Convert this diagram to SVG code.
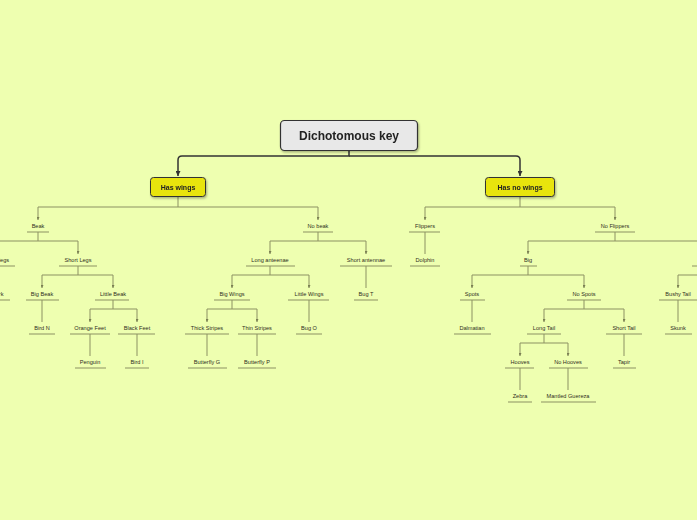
<svg xmlns="http://www.w3.org/2000/svg" width="697" height="520" viewBox="0 0 697 520">
<style>
.t{font-family:"Liberation Sans",Arial,sans-serif;font-size:5.6px;fill:#2e2e22;text-anchor:middle}
.u{stroke:#8c9163;stroke-width:1}
.c{fill:none;stroke:#8c9163;stroke-width:1}
.ca{fill:none;stroke:#8c9163;stroke-width:1;marker-end:url(#a)}
.b{font-family:"Liberation Sans",Arial,sans-serif;font-weight:bold;text-anchor:middle;fill:#222}
</style>
<defs>
<marker id="a" viewBox="0 0 6 6" refX="3" refY="6" markerWidth="3" markerHeight="3"><path d="M0,0 L6,0 L3,6z" fill="#7a7f52"/></marker>
<marker id="m" viewBox="0 0 8 8" refX="4" refY="8" markerWidth="5" markerHeight="5" markerUnits="userSpaceOnUse"><path d="M0,0 L8,0 L4,8z" fill="#333"/></marker>
<filter id="s" x="-10%" y="-10%" width="130%" height="140%"><feDropShadow dx="1" dy="1.5" stdDeviation="1" flood-opacity="0.3"/></filter>
</defs>
<rect width="697" height="520" fill="#eeffb0"/>
<g id="connectors">
<path d="M349,151 V156 H182 Q178,156 178,160 V176" fill="none" stroke="#333" stroke-width="1.5" marker-end="url(#m)"/>
<path d="M349,156 H516 Q520,156 520,160 V176" fill="none" stroke="#333" stroke-width="1.5" marker-end="url(#m)"/>
<path class="c" d="M178,197 V207 M38,207 H318"/>
<path class="ca" d="M38,207 V220"/><path class="ca" d="M318,207 V220"/>
<path class="c" d="M38,232 V241 M-10,241 H78"/>
<path class="ca" d="M-2,241 V254"/><path class="ca" d="M78,241 V254"/>
<path class="c" d="M78,266 V275 M42,275 H113"/>
<path class="ca" d="M42,275 V288"/><path class="ca" d="M113,275 V288"/>
<path class="c" d="M-3,266 V288"/>
<path class="c" d="M42,300 V322"/>
<path class="c" d="M113,300 V309 M90,309 H137"/>
<path class="ca" d="M90,309 V322"/><path class="ca" d="M137,309 V322"/>
<path class="c" d="M90,334 V356 M137,334 V356"/>
<path class="c" d="M318,232 V241 M270,241 H366"/>
<path class="ca" d="M270,241 V254"/><path class="ca" d="M366,241 V254"/>
<path class="c" d="M270,266 V275 M232,275 H309"/>
<path class="ca" d="M232,275 V288"/><path class="ca" d="M309,275 V288"/>
<path class="c" d="M366,266 V288"/>
<path class="c" d="M232,300 V309 M207,309 H257"/>
<path class="ca" d="M207,309 V322"/><path class="ca" d="M257,309 V322"/>
<path class="c" d="M309,300 V322"/>
<path class="c" d="M207,334 V356 M257,334 V356"/>
<path class="c" d="M520,197 V207 M425,207 H615"/>
<path class="ca" d="M425,207 V220"/><path class="ca" d="M615,207 V220"/>
<path class="c" d="M425,232 V254"/>
<path class="c" d="M615,232 V241 M528,241 H700"/>
<path class="ca" d="M528,241 V254"/>
<path class="c" d="M528,266 V275 M472,275 H584"/>
<path class="ca" d="M472,275 V288"/><path class="ca" d="M584,275 V288"/>
<path class="c" d="M705,266 V275 M678,275 H700"/>
<path class="ca" d="M678,275 V288"/>
<path class="c" d="M472,300 V322 M678,300 V322"/>
<path class="c" d="M584,300 V309 M544,309 H624"/>
<path class="ca" d="M544,309 V322"/><path class="ca" d="M624,309 V322"/>
<path class="c" d="M544,334 V343 M520,343 H568"/>
<path class="ca" d="M520,343 V356"/><path class="ca" d="M568,343 V356"/>
<path class="c" d="M624,334 V356"/>
<path class="c" d="M520,368 V390 M568,368 V390"/>
</g>
<g id="root" filter="url(#s)"><rect x="280.5" y="120.5" width="137" height="30" rx="4" fill="#e8e8e8" stroke="#333" stroke-width="1.2"/><text class="b" x="349" y="140" font-size="12">Dichotomous key</text></g>
<g id="haswings" filter="url(#s)"><rect x="150.5" y="177.5" width="55" height="19" rx="3" fill="#e8e40f" stroke="#333" stroke-width="1"/><text class="b" x="178" y="190" font-size="7">Has wings</text></g>
<g id="hasnowings" filter="url(#s)"><rect x="485.5" y="177.5" width="69" height="19" rx="3" fill="#e8e40f" stroke="#333" stroke-width="1"/><text class="b" x="520" y="190" font-size="7">Has no wings</text></g>
<g id="n-beak"><text class="t" x="38" y="228">Beak</text><path class="u" d="M27,232H49"/></g>
<g id="n-longlegs"><text class="t" x="-3" y="262">Long legs</text><path class="u" d="M-20,266H15"/></g>
<g id="n-shortlegs"><text class="t" x="78" y="262">Short Legs</text><path class="u" d="M59,266H97"/></g>
<g id="n-rk"><text class="t" x="-3" y="296">Stork</text><path class="u" d="M-20,300H10"/></g>
<g id="n-bigbeak"><text class="t" x="42" y="296">Big Beak</text><path class="u" d="M26,300H59"/></g>
<g id="n-littlebeak"><text class="t" x="113" y="296">Little Beak</text><path class="u" d="M95,300H129"/></g>
<g id="n-birdn"><text class="t" x="42" y="330">Bird N</text><path class="u" d="M29,334H55"/></g>
<g id="n-orangefeet"><text class="t" x="90" y="330">Orange Feet</text><path class="u" d="M70,334H110"/></g>
<g id="n-blackfeet"><text class="t" x="137" y="330">Black Feet</text><path class="u" d="M118,334H155"/></g>
<g id="n-penguin"><text class="t" x="90" y="364">Penguin</text><path class="u" d="M75,368H106"/></g>
<g id="n-birdi"><text class="t" x="137" y="364">Bird I</text><path class="u" d="M125,368H149"/></g>
<g id="n-nobeak"><text class="t" x="318" y="228">No beak</text><path class="u" d="M303,232H333"/></g>
<g id="n-longant"><text class="t" x="270" y="262">Long anteenae</text><path class="u" d="M246,266H295"/></g>
<g id="n-shortant"><text class="t" x="366" y="262">Short antennae</text><path class="u" d="M340,266H392"/></g>
<g id="n-bigwings"><text class="t" x="232" y="296">Big Wings</text><path class="u" d="M214,300H250"/></g>
<g id="n-littlewings"><text class="t" x="309" y="296">Little Wings</text><path class="u" d="M288,300H329"/></g>
<g id="n-bugt"><text class="t" x="366" y="296">Bug T</text><path class="u" d="M354,300H378"/></g>
<g id="n-thick"><text class="t" x="207" y="330">Thick Stripes</text><path class="u" d="M185,334H229"/></g>
<g id="n-thin"><text class="t" x="257" y="330">Thin Stripes</text><path class="u" d="M238,334H276"/></g>
<g id="n-bugo"><text class="t" x="309" y="330">Bug O</text><path class="u" d="M296,334H322"/></g>
<g id="n-bfg"><text class="t" x="207" y="364">Butterfly G</text><path class="u" d="M188,368H227"/></g>
<g id="n-bfp"><text class="t" x="257" y="364">Butterfly P</text><path class="u" d="M238,368H276"/></g>
<g id="n-flippers"><text class="t" x="425" y="228">Flippers</text><path class="u" d="M409,232H440"/></g>
<g id="n-noflippers"><text class="t" x="615" y="228">No Flippers</text><path class="u" d="M595,232H635"/></g>
<g id="n-dolphin"><text class="t" x="425" y="262">Dolphin</text><path class="u" d="M410,266H440"/></g>
<g id="n-big"><text class="t" x="528" y="262">Big</text><path class="u" d="M520,266H537"/></g>
<g id="n-small"><text class="t" x="708" y="262">Small</text><path class="u" d="M692,266H724"/></g>
<g id="n-spots"><text class="t" x="472" y="296">Spots</text><path class="u" d="M460,300H485"/></g>
<g id="n-nospots"><text class="t" x="584" y="296">No Spots</text><path class="u" d="M567,300H601"/></g>
<g id="n-bushy"><text class="t" x="678" y="296">Bushy Tail</text><path class="u" d="M659,300H697"/></g>
<g id="n-dalmatian"><text class="t" x="472" y="330">Dalmatian</text><path class="u" d="M454,334H491"/></g>
<g id="n-longtail"><text class="t" x="544" y="330">Long Tail</text><path class="u" d="M527,334H561"/></g>
<g id="n-shorttail"><text class="t" x="624" y="330">Short Tail</text><path class="u" d="M606,334H642"/></g>
<g id="n-skunk"><text class="t" x="678" y="330">Skunk</text><path class="u" d="M665,334H692"/></g>
<g id="n-hooves"><text class="t" x="520" y="364">Hooves</text><path class="u" d="M505,368H534"/></g>
<g id="n-nohooves"><text class="t" x="568" y="364">No Hooves</text><path class="u" d="M549,368H588"/></g>
<g id="n-tapir"><text class="t" x="624" y="364">Tapir</text><path class="u" d="M613,368H636"/></g>
<g id="n-zebra"><text class="t" x="520" y="398">Zebra</text><path class="u" d="M508,402H532"/></g>
<g id="n-guereza"><text class="t" x="568" y="398">Mantled Guereza</text><path class="u" d="M541,402H596"/></g>
</svg>
